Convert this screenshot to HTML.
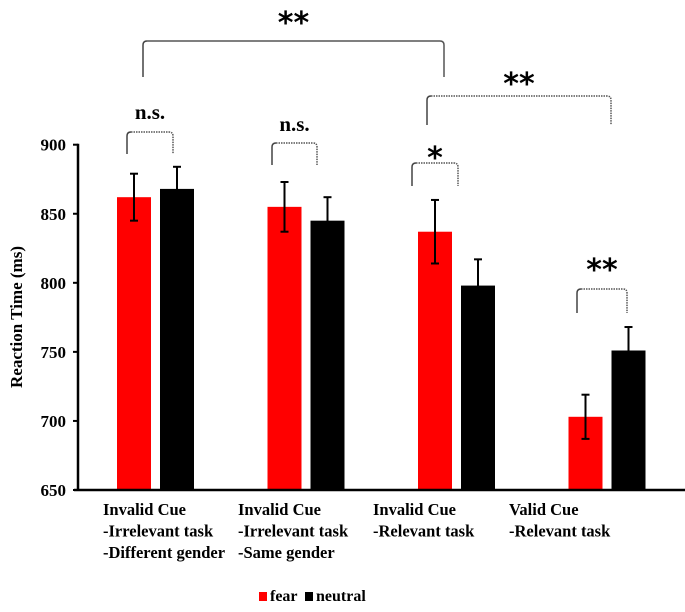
<!DOCTYPE html>
<html><head><meta charset="utf-8"><style>
html,body{margin:0;padding:0;background:#fff;}
svg{display:block;font-family:"Liberation Serif",serif;}
</style></head><body>
<svg id="chart" width="685" height="612" viewBox="0 0 685 612" xmlns="http://www.w3.org/2000/svg">
<g id="ann"></g>
<g id="bars"></g>
<g id="axes"></g>
<text transform="translate(22,317) rotate(-90)" text-anchor="middle" font-size="17" font-weight="bold">Reaction Time (ms)</text>
<g>
<rect x="259" y="592" width="8" height="9" fill="#ff0000"/>
<text x="270" y="601" font-size="16" font-weight="bold">fear</text>
<rect x="305" y="592" width="8" height="9" fill="#000"/>
<text x="316" y="601" font-size="16" font-weight="bold">neutral</text>
</g>
</svg>
<script>
const categories=[["Invalid Cue","-Irrelevant task","-Different gender"],["Invalid Cue","-Irrelevant task","-Same gender"],["Invalid Cue","-Relevant task"],["Valid Cue","-Relevant task"]];
const fearValues=[862,855,837,703];
const neutralValues=[868,845,798,751];
const fearErrors=[17,18,23,16];
const neutralErrors=[16,17,19,17];
const yTicks=[650,700,750,800,850,900];

const NS="http://www.w3.org/2000/svg";
function mk(tag,attrs,parent){const e=document.createElementNS(NS,tag);for(const k in attrs)e.setAttribute(k,attrs[k]);parent.appendChild(e);return e;}
const y0=490,yTop=144.7,vMin=650,vMax=900;
function yScale(v){return y0-(v-vMin)/(vMax-vMin)*(y0-yTop);}
const groupStart=117,groupStep=150.5,barW=34,gap=9;
function xFear(i){return groupStart+i*groupStep;}
function xNeutral(i){return xFear(i)+barW+gap;}
const bars=document.getElementById('bars'),axes=document.getElementById('axes');
function errBar(cx,v,e,name){
  const g=mk('g',{stroke:'#000','stroke-width':2},bars);
  
  
  mk('line',{x1:cx,x2:cx,y1:yScale(v+e),y2:yScale(v-e)},g);
  mk('line',{x1:cx-4,x2:cx+4,y1:yScale(v+e),y2:yScale(v+e)},g);
  mk('line',{x1:cx-4,x2:cx+4,y1:yScale(v-e),y2:yScale(v-e)},g);
}
fearValues.forEach((v,i)=>{
  const r=mk('rect',{x:xFear(i),y:yScale(v),width:barW,height:y0-yScale(v),fill:'#ff0000'},bars);
  
  
  errBar(xFear(i)+barW/2,v,fearErrors[i],'error-bar-fear-'+(i+1));
});
neutralValues.forEach((v,i)=>{
  const r=mk('rect',{x:xNeutral(i),y:yScale(v),width:barW,height:y0-yScale(v),fill:'#000'},bars);
  
  
  errBar(xNeutral(i)+barW/2,v,neutralErrors[i],'error-bar-neutral-'+(i+1));
});
const ya=mk('line',{x1:78,x2:78,y1:yTop-1,y2:y0+1,stroke:'#000','stroke-width':2.5},axes);


const xa=mk('line',{x1:74,x2:685,y1:y0,y2:y0,stroke:'#000','stroke-width':2.5},axes);


yTicks.forEach(t=>{
  mk('line',{x1:73,x2:78,y1:yScale(t),y2:yScale(t),stroke:'#000','stroke-width':2},axes);
  const tx=mk('text',{x:66,y:yScale(t)+6,'text-anchor':'end','font-size':17,'font-weight':'bold'},axes);
  tx.textContent=t;
  
  
});
const labelX=[103,238,373,509];
categories.forEach((lines,i)=>{
  const t=mk('text',{x:labelX[i],y:515,'font-size':16.5,'font-weight':'bold','textLength':0},axes);
  t.removeAttribute('textLength');
  
  
  lines.forEach((l,j)=>{const ts=mk('tspan',{x:labelX[i],y:515+j*21.5},t);ts.textContent=l;});
});
const ann=document.getElementById('ann');
function bracket(l,r,top,bot,label,ly,name,solid){
  const g=mk('g',{},ann);
  
  
  mk('path',{d:`M${l},${bot} L${l},${top+4} Q${l},${top} ${l+4},${top}`,fill:'none',stroke:'#444','stroke-width':1.5},g);
  mk('path',{d:`M${l+4},${top} L${r-4},${top} Q${r},${top} ${r},${top+4} L${r},${bot}`,fill:'none',stroke:'#555','stroke-width':1.5,'stroke-dasharray':solid?'none':'1.5 1'},g);
  const star=label.includes('*');
  const t=mk('text',{x:(l+r)/2,y:ly,'text-anchor':'middle','font-size':star?30:21,'font-weight':'bold','font-family':star?'"DejaVu Sans",sans-serif':'"Liberation Serif",serif'},g);
  t.textContent=label;
}
bracket(143,444,41,77,'**',33,'bracket-top-cross-group',true);
bracket(427,611,96,125,'**',94,'bracket-relevant-task',false);
bracket(127,173,132,154,'n.s.',119,'bracket-group1',false);
bracket(272,317,143,165,'n.s.',131,'bracket-group2',false);
bracket(412,458,163,186,'*',168,'bracket-group3',false);
bracket(577,627,289,313,'**',280,'bracket-group4',false);
</script>
</body></html>
